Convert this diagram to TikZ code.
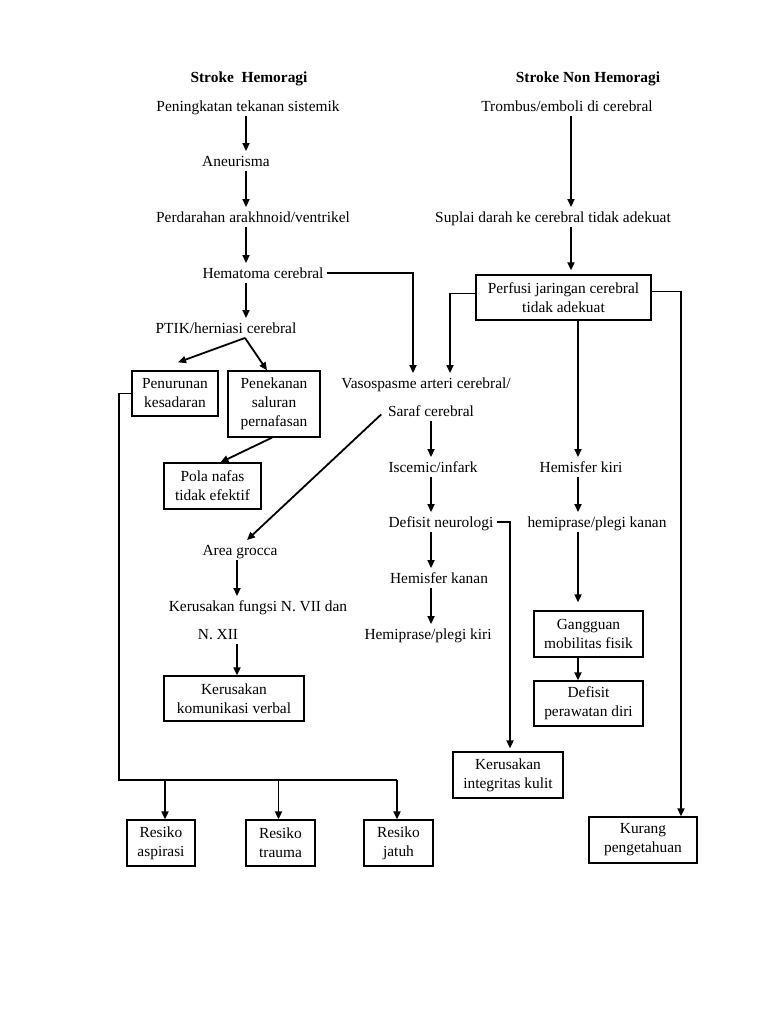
\documentclass[tikz,border=0pt]{standalone}
\usepackage{fontspec}
\setmainfont{Liberation Serif}
\usetikzlibrary{arrows.meta,positioning}
\tikzset{
	teks/.style={inner sep=3pt,text height=12.5pt,text depth=1pt,font=\fontsize{15.4}{19}\selectfont},
	judul/.style={teks,font=\fontsize{15.4}{19}\selectfont\bfseries},
	kotak/.style={draw,line width=1.3pt,align=center,inner sep=0pt,font=\fontsize{15.4}{19}\selectfont},
	panah/.style={-{Triangle[length=8pt,width=7pt]},line width=1.8pt},
	garis/.style={line width=1.8pt}
}

\begin{document}
\begin{tikzpicture}[x=1pt,y=-1pt]
			\useasboundingbox (0,0) rectangle (768,1024);
			\coordinate (kiri) at (246,0);
			\coordinate (grocx) at (237,0);
			\coordinate (tengah) at (431,0);
			\coordinate (kanan) at (571,0);
			\coordinate (hemx) at (578,0);
			\coordinate (simpang) at (119,780);
			% stroke hemoragi
			\node[judul] (hemoragi) at (249,77) {Stroke\ \ Hemoragi};
			\node[teks] (tekanan) at (248,106) {Peningkatan tekanan sistemik};
			\node[teks] (aneurisma) at (236,161) {Aneurisma};
			\node[teks] (perdarahan) at (253,217) {Perdarahan arakhnoid/ventrikel};
			\node[teks] (hematoma) at (263,273) {Hematoma cerebral};
			\node[teks] (ptik) at (226,328) {PTIK/herniasi cerebral};
			\node[kotak,minimum width=86,minimum height=45] (penurunan) at (175,393.5) {Penurunan\\kesadaran};
			\node[kotak,minimum width=92,minimum height=66] (penekanan) at (274,404) {Penekanan\\saluran\\pernafasan};
			\node[kotak,minimum width=97,minimum height=46] (polanafas) at (212.5,486) {Pola nafas\\tidak efektif};
			\node[teks] (grocca) at (240,550) {Area grocca};
			\node[teks] (fungsi) at (258,606) {Kerusakan fungsi N. VII dan};
			\node[teks] (nxii) at (218,634) {N. XII};
			\node[kotak,minimum width=140,minimum height=45] (komunikasi) at (234,698.5) {Kerusakan\\komunikasi verbal};
			% tengah
			\node[teks] (vasospasme) at (426,383) {Vasospasme arteri cerebral/};
			\node[teks] (saraf) at (431,411) {Saraf cerebral};
			\node[teks] (iscemic) at (433,467) {Iscemic/infark};
			\node[teks] (neurologi) at (441,522) {Defisit neurologi};
			\node[teks] (hemkanan) at (439,578) {Hemisfer kanan};
			\node[teks] (plegikiri) at (428,634) {Hemiprase/plegi kiri};
			\node[kotak,minimum width=110,minimum height=46] (integritas) at (508,775) {Kerusakan\\integritas kulit};
			% stroke non hemoragi
			\node[judul] (nonhemoragi) at (588,77) {Stroke Non Hemoragi};
			\node[teks] (trombus) at (567,106) {Trombus/emboli di cerebral};
			\node[teks] (suplai) at (553,217) {Suplai darah ke cerebral tidak adekuat};
			\node[kotak,minimum width=175,minimum height=45] (perfusi) at (563.5,297.5) {Perfusi jaringan cerebral\\tidak adekuat};
			\node[teks] (hemkiri) at (581,467) {Hemisfer kiri};
			\node[teks] (plegikanan) at (597,522) {hemiprase/plegi kanan};
			\node[kotak,minimum width=109,minimum height=46] (mobilitas) at (588.5,634) {Gangguan\\mobilitas fisik};
			\node[kotak,minimum width=109,minimum height=45] (perawatan) at (588.5,703.5) {Defisit\\perawatan diri};
			\node[kotak,minimum width=108,minimum height=46] (pengetahuan) at (643,840) {Kurang\\pengetahuan};
			% resiko
			\node[kotak,minimum width=68,minimum height=46] (aspirasi) at (161,843) {Resiko\\aspirasi};
			\node[kotak,minimum width=69,minimum height=46] (trauma) at (280.5,843) {Resiko\\trauma};
			\node[kotak,minimum width=69,minimum height=46] (jatuh) at (398.5,843) {Resiko\\jatuh};

			\foreach \a/\b in {tekanan/aneurisma,aneurisma/perdarahan,perdarahan/hematoma,hematoma/ptik}
				\draw[panah] (\a.south -| kiri) -- (\b.north -| kiri);
			\draw[panah] ([xshift=19pt]ptik.south) -- ([xshift=3pt,yshift=8pt]penurunan.north);
			\draw[panah] ([xshift=19pt]ptik.south) -- ([xshift=-7pt]penekanan.north);
			\draw[panah] ([xshift=-2pt]penekanan.south) -- ([xshift=8pt]polanafas.north);
			\draw[panah] (hematoma.east) -| ([xshift=-13pt]vasospasme.north);
			\draw[panah,shorten <=5pt] (saraf.west) -- ([xshift=7pt]grocca.north);
			\draw[panah] (grocca.south -| grocx) -- (fungsi.north -| grocx);
			\draw[panah] (nxii.south -| grocx) -- (komunikasi.north -| grocx);
			\draw[garis] (penurunan.west) -| (simpang) -- ([xshift=-1.5pt]simpang -| jatuh.north);
			\foreach \r/\dx in {aspirasi/4,trauma/-2,jatuh/-1.5}
				\draw[panah] ([xshift=\dx pt]simpang -| \r.north) -- ([xshift=\dx pt]\r.north);

			\foreach \a/\b in {saraf/iscemic,iscemic/neurologi,neurologi/hemkanan,hemkanan/plegikiri}
				\draw[panah] (\a.south -| tengah) -- (\b.north -| tengah);
			\draw[panah,shorten >=3pt] (neurologi.east) -| ([xshift=2pt]integritas.north);

			\draw[panah] (trombus.south -| kanan) -- (suplai.north -| kanan);
			\draw[panah,shorten >=4pt] (suplai.south -| kanan) -- (perfusi.north -| kanan);
			\draw[panah] ([yshift=4pt]perfusi.west) -| ([xshift=24pt]vasospasme.north);
			\draw[panah] ([yshift=6pt]perfusi.east) -| ([xshift=38pt]pengetahuan.north);
			\draw[panah] (perfusi.south -| hemx) -- (hemkiri.north -| hemx);
			\draw[panah] (hemkiri.south -| hemx) -- (plegikanan.north -| hemx);
			\draw[panah,shorten >=8pt] (plegikanan.south -| hemx) -- (mobilitas.north -| hemx);
			\draw[panah] (mobilitas.south -| hemx) -- (perawatan.north -| hemx);
		\end{tikzpicture}
\end{document}
